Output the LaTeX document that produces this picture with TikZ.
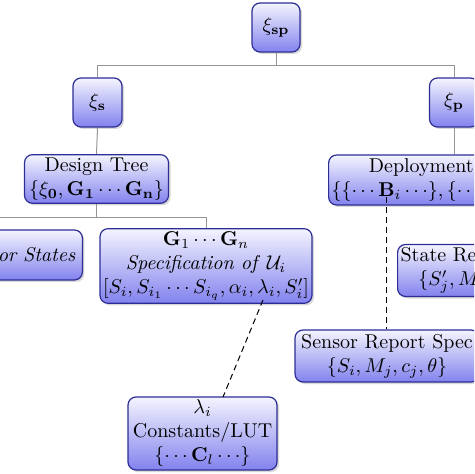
\documentclass[tikz,border=0pt]{standalone}
\usetikzlibrary{shadows,calc,backgrounds}
\definecolor{boxtop}{RGB}{244,244,255}
\definecolor{boxbot}{RGB}{130,130,238}
\definecolor{boxline}{RGB}{45,45,150}
\definecolor{linkgray}{RGB}{150,150,150}
\tikzset{
  treebox/.style={draw=boxline, line width=0.6pt, rounded corners=4pt,
    top color=boxtop, bottom color=boxbot, align=center, inner sep=1.5pt,
    drop shadow={opacity=0.3, shadow xshift=1pt, shadow yshift=-1pt}},
  link/.style={draw=linkgray, line width=0.5pt},
  speclink/.style={draw=black, line width=0.5pt, dash pattern=on 3pt off 2pt}
}
\begin{document}
\begin{tikzpicture}[x=0.5pt,y=-0.5pt]
\useasboundingbox (0,0) rectangle (474,474);
\clip (0,0) rectangle (474,474);
% nodes
\node[treebox, minimum width=24pt, minimum height=24.5pt] (sp) at (276,27.5) {$\xi_{\mathbf{sp}}$};
\node[treebox, minimum width=24.5pt, minimum height=24.5pt] (s) at (97.5,102.5) {$\xi_{\mathbf{s}}$};
\node[treebox, minimum width=24.5pt, minimum height=24.5pt] (p) at (454,102.5) {$\xi_{\mathbf{p}}$};
\node[treebox, minimum width=72pt, minimum height=24pt] (dt) at (96.5,179) {Design Tree\\ $\{\xi_{\mathbf{0}},\mathbf{G_1}\cdots\mathbf{G_n}\}$};
\node[treebox, anchor=west, minimum height=25pt] (dep) at (328,180) {Deployment Tree\\ $\{\{\cdots\mathbf{B}_i\cdots\},\{\cdots\mathbf{R}_j\cdots\}\}$};
\node[treebox, anchor=east, inner xsep=3.5pt, text width=84pt, align=right, minimum height=25pt] (act) at (83,255) {\textit{Actuator States}};
\node[treebox, minimum width=104pt, minimum height=36pt] (g) at (206,266) {$\mathbf{G}_1\cdots\mathbf{G}_n$\\ \textit{Specification of} $\mathcal{U}_i$\\ $[S_i,S_{i_1}\cdots S_{i_q},\alpha_i,\lambda_i,S'_i]$};
\node[treebox, anchor=west, minimum height=25.5pt] (st) at (397,270.5) {State Report\\ $\{S'_j,M_j\}$};
\node[treebox, minimum width=92pt, minimum height=26pt] (sr) at (387,356) {Sensor Report Spec\\ $\{S_i,M_j,c_j,\theta\}$};
\node[treebox, minimum width=74.5pt, minimum height=36.5pt] (c) at (202.5,433.5) {$\lambda_i$\\ Constants/LUT\\ $\{\cdots\mathbf{C}_l\cdots\}$};
% tree connectors
\begin{scope}[on background layer]
\draw[link] (sp.south) -- ++(0,13) -| (s.north);
\draw[link] (sp.south) -- ++(0,13) -| (p.north);
\draw[link] (s.south) -- (dt.north);
\draw[link] (p.south) -- (p.south |- dep.north);
\draw[link] (dt.south) -- ++(0,14) -| (act.north);
\draw[link] (dt.south) -- ++(0,14) -| (g.north);
\end{scope}
% specification links
\coordinate (gl) at (263,300);
\coordinate (cl) at (223,397);
\draw[speclink] (gl) -- (cl);
\coordinate (db) at (386,197);
\draw[speclink] (db) -- (db |- sr.north);
\end{tikzpicture}
\end{document}
